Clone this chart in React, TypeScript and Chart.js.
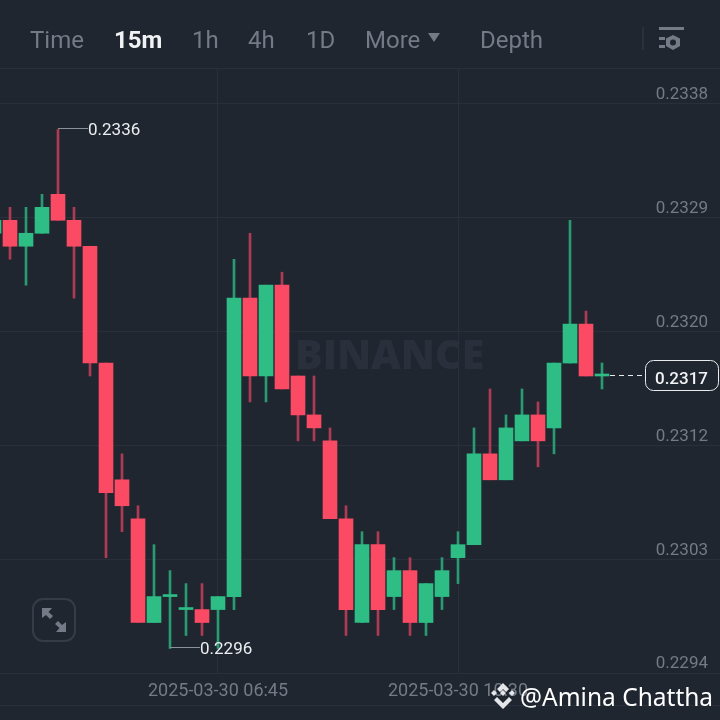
import React, { useEffect, useRef } from "react";
import { Chart, registerables } from "chart.js";

Chart.register(...registerables);

// One candle every 15 minutes; the first opens 195 minutes after midnight on 2025-03-30
const firstMinute = 195;
const candleMinutes = 15;
const opens = [0.2328, 0.2329, 0.2327, 0.2328, 0.2331, 0.2329, 0.2327, 0.2318, 0.2309, 0.2306, 0.2298, 0.2300, 0.2299, 0.2299, 0.2299, 0.2300, 0.2323, 0.2317, 0.2324, 0.2317, 0.2314, 0.2312, 0.2306, 0.2298, 0.2304, 0.2300, 0.2302, 0.2298, 0.2300, 0.2303, 0.2304, 0.2311, 0.2309, 0.2312, 0.2314, 0.2313, 0.2318, 0.2321, 0.2317];
const closes = [0.2329, 0.2327, 0.2328, 0.2330, 0.2329, 0.2327, 0.2318, 0.2308, 0.2307, 0.2298, 0.2300, 0.2300, 0.2299, 0.2298, 0.2300, 0.2323, 0.2317, 0.2324, 0.2316, 0.2314, 0.2313, 0.2306, 0.2299, 0.2304, 0.2299, 0.2302, 0.2298, 0.2301, 0.2302, 0.2304, 0.2311, 0.2309, 0.2313, 0.2314, 0.2312, 0.2318, 0.2321, 0.2317, 0.2317];
const highs = [0.2329, 0.2330, 0.2330, 0.2331, 0.2336, 0.2330, 0.2327, 0.2318, 0.2311, 0.2307, 0.2304, 0.2302, 0.2301, 0.2301, 0.2300, 0.2326, 0.2328, 0.2324, 0.2325, 0.2317, 0.2317, 0.2313, 0.2307, 0.2305, 0.2305, 0.2303, 0.2303, 0.2301, 0.2303, 0.2305, 0.2313, 0.2316, 0.2314, 0.2316, 0.2315, 0.2318, 0.2329, 0.2322, 0.2318];
const lows = [0.2328, 0.2326, 0.2324, 0.2328, 0.2329, 0.2323, 0.2317, 0.2303, 0.2305, 0.2298, 0.2298, 0.2296, 0.2297, 0.2297, 0.2296, 0.2299, 0.2315, 0.2315, 0.2316, 0.2312, 0.2312, 0.2306, 0.2297, 0.2298, 0.2297, 0.2299, 0.2297, 0.2297, 0.2299, 0.2301, 0.2304, 0.2309, 0.2309, 0.2312, 0.2310, 0.2311, 0.2318, 0.2317, 0.2316];

const priceTicks = [0.2338, 0.232922, 0.232043, 0.231165, 0.230286, 0.229411];
const timeTicks = [405, 630];
const dateLabel = "2025-03-30";
const menuItems = ["Time", "15m", "1h", "4h", "1D", "More", "Depth"];
const menuLefts = [30, 114, 192, 248, 306, 365, 480];

const highLabel = { minute: 255, price: 0.2336, text: "0.2336" };
const lowLabel = { minute: 360, price: 0.2296, text: "0.2296" };
const lastPrice = { minute: 765, price: 0.2317, text: "0.2317" };

const BG = "#1f2630";
const GRID = "#2a303b";
const UP = "#2ebd85";
const DOWN = "#fb4a63";
const UP_WICK = "#2a9a72";
const DOWN_WICK = "#ae3a53";
const MUTED = "#747b86";
const FONT = "Roboto";

const pad = (n: number) => String(n).padStart(2, "0");
const fmtTime = (m: number) => `${dateLabel} ${pad(Math.floor(m / 60))}:${pad(m % 60)}`;

const times = opens.map((_, i) => firstMinute + candleMinutes * i);
const isUp = opens.map((o, i) => closes[i] >= o);

const overlays = {
  id: "overlays",
  beforeDatasetsDraw(chart: any) {
    const { ctx, width } = chart;
    ctx.save();
    ctx.strokeStyle = GRID;
    ctx.lineWidth = 1;
    for (const y of [68.5, 705.5]) {
      ctx.beginPath();
      ctx.moveTo(0, y);
      ctx.lineTo(width, y);
      ctx.stroke();
    }
    ctx.fillStyle = "#2a303b";
    ctx.font = `800 41px "Open Sans"`;
    ctx.textAlign = "left";
    ctx.textBaseline = "middle";
    ctx.fillText("BINANCE", 295, 357);
    ctx.restore();
  },
  afterDatasetsDraw(chart: any) {
    const { ctx, scales } = chart;
    const xs = scales.x;
    const ys = scales.y;
    ctx.save();
    ctx.textBaseline = "middle";
    ctx.textAlign = "left";
    ctx.font = `400 17px ${FONT}`;
    for (const a of [highLabel, lowLabel]) {
      const px = Math.round(xs.getPixelForValue(a.minute));
      const py = Math.round(ys.getPixelForValue(a.price)) - 0.5;
      ctx.strokeStyle = "#8b9099";
      ctx.lineWidth = 1;
      ctx.beginPath();
      ctx.moveTo(px, py);
      ctx.lineTo(px + 30, py);
      ctx.stroke();
      ctx.fillStyle = "#eceef0";
      ctx.fillText(a.text, px + 30, py + 2);
    }
    const lx = xs.getPixelForValue(lastPrice.minute);
    const ly = Math.round(ys.getPixelForValue(lastPrice.price)) - 0.5;
    ctx.strokeStyle = "#e8eaed";
    ctx.setLineDash([5, 4]);
    ctx.beginPath();
    ctx.moveTo(lx + 8, ly);
    ctx.lineTo(645, ly);
    ctx.stroke();
    ctx.setLineDash([]);
    ctx.fillStyle = BG;
    ctx.lineWidth = 1;
    ctx.beginPath();
    ctx.roundRect(645.5, 360.5, 73, 30, 8);
    ctx.fill();
    ctx.stroke();
    ctx.fillStyle = "#f2f3f5";
    ctx.textAlign = "right";
    ctx.font = `500 17px ${FONT}`;
    ctx.fillText(lastPrice.text, 708, 380);
    ctx.restore();
  },
};

export default function App() {
  const ref = useRef<HTMLCanvasElement>(null);
  useEffect(() => {
    if (!ref.current) return;
    const chart = new Chart(ref.current, {
      type: "bar",
      data: {
        datasets: [
          {
            label: "High-Low",
            data: times.map((x, i) => ({ x, y: [lows[i], highs[i]] })),
            backgroundColor: isUp.map((u) => (u ? UP_WICK : DOWN_WICK)),
            barThickness: 2,
            grouped: false,
            order: 2,
          },
          {
            label: "Open-Close",
            data: times.map((x, i) => ({ x, y: [opens[i], closes[i]] })),
            backgroundColor: isUp.map((u) => (u ? UP : DOWN)),
            barThickness: 14,
            minBarLength: 2,
            grouped: false,
            order: 1,
          },
        ] as any,
      },
      options: {
        animation: false,
        responsive: false,
        maintainAspectRatio: false,
        layout: { padding: { top: 69, left: 0, right: 0, bottom: 0 } },
        plugins: { legend: { display: false }, tooltip: { enabled: false } },
        scales: {
          x: {
            type: "linear",
            offset: false,
            min: 200.625,
            max: 875.625,
            afterBuildTicks: (s: any) => {
              s.ticks = timeTicks.map((value) => ({ value }));
            },
            afterFit: (s: any) => {
              s.height = 47;
              s.paddingLeft = 0;
              s.paddingRight = 0;
            },
            grid: { color: GRID, drawTicks: false, offset: false },
            border: { display: false },
            ticks: {
              color: MUTED,
              font: { family: FONT, size: 18 },
              padding: 8,
              maxRotation: 0,
              autoSkip: false,
              callback: (v: any) => fmtTime(Number(v)),
            },
          },
          y: {
            type: "linear",
            position: "right",
            min: 0.229411,
            max: 0.234066,
            afterBuildTicks: (s: any) => {
              s.ticks = priceTicks.map((value) => ({ value }));
            },
            afterFit: (s: any) => {
              s.width = 0;
              s.paddingTop = 0;
              s.paddingBottom = 0;
            },
            grid: { color: GRID, drawTicks: false },
            border: { display: false },
            ticks: {
              mirror: true,
              color: MUTED,
              font: { family: FONT, size: 17 },
              padding: -12,
              labelOffset: -9,
              callback: (v: any) => Number(v).toFixed(4),
            },
          },
        },
      } as any,
      plugins: [overlays],
    });
    return () => chart.destroy();
  }, []);

  return (
    <div style={{ position: "relative", width: 720, height: 720, overflow: "hidden", background: BG }}>
      <style>{`html,body{margin:0;padding:0;background:${BG}}`}</style>
      <canvas ref={ref} width={720} height={720} style={{ display: "block" }} />
      {menuItems.map((t, i) => (
        <span
          key={t}
          style={{
            position: "absolute",
            left: menuLefts[i],
            top: 24,
            lineHeight: "32px",
            fontFamily: FONT,
            fontSize: 24,
            fontWeight: t === "15m" ? 700 : 400,
            color: t === "15m" ? "#f1f2f4" : MUTED,
            whiteSpace: "nowrap",
          }}
        >
          {t}
        </span>
      ))}
      <svg width={720} height={720} style={{ position: "absolute", left: 0, top: 0, pointerEvents: "none" }}>
        <path d="M428 33H440L434 42Z" fill={MUTED} />
        <rect x={642.5} y={27} width={1} height={23} fill="#363c47" />
        <rect x={659} y={27} width={25} height={3} fill={MUTED} />
        <rect x={659} y={37} width={6} height={3} fill={MUTED} />
        <rect x={659} y={45} width={6} height={3} fill={MUTED} />
        <path d="M673 35L680 38.500V46L673 50L666 46V38.500Z" fill={MUTED} />
        <circle cx={673} cy={42.5} r={3} fill={BG} />
        <rect x={33} y={599} width={42} height={42} rx={10} fill="none" stroke="#363c47" strokeWidth={2} />
        <path d="M42 608H52L48.500 612L53 616L50 619L46 615L42 618Z" fill={MUTED} />
        <path d="M66 632H56L59.500 628L55 624L58 621L62 625L66 622Z" fill={MUTED} />
        <g fill="#e4e6ea">
          <path d="M503 683L509 689L506 692L503 689L500 692L497 689Z" />
          <path d="M494 690L497 693L494 696L491 693Z" />
          <path d="M512 690L515 693L512 696L509 693Z" />
          <path d="M503 690L506 693L503 696L500 693Z" />
          <path d="M497 697L503 703L509 697L512 700L503 709L494 700Z" />
        </g>
      </svg>
      <span
        style={{
          position: "absolute",
          left: 520,
          top: 680,
          lineHeight: "34px",
          fontFamily: "Noto Sans",
          fontSize: 24.5,
          color: "#ffffff",
          whiteSpace: "nowrap",
        }}
      >
        @Amina Chattha
      </span>
    </div>
  );
}
